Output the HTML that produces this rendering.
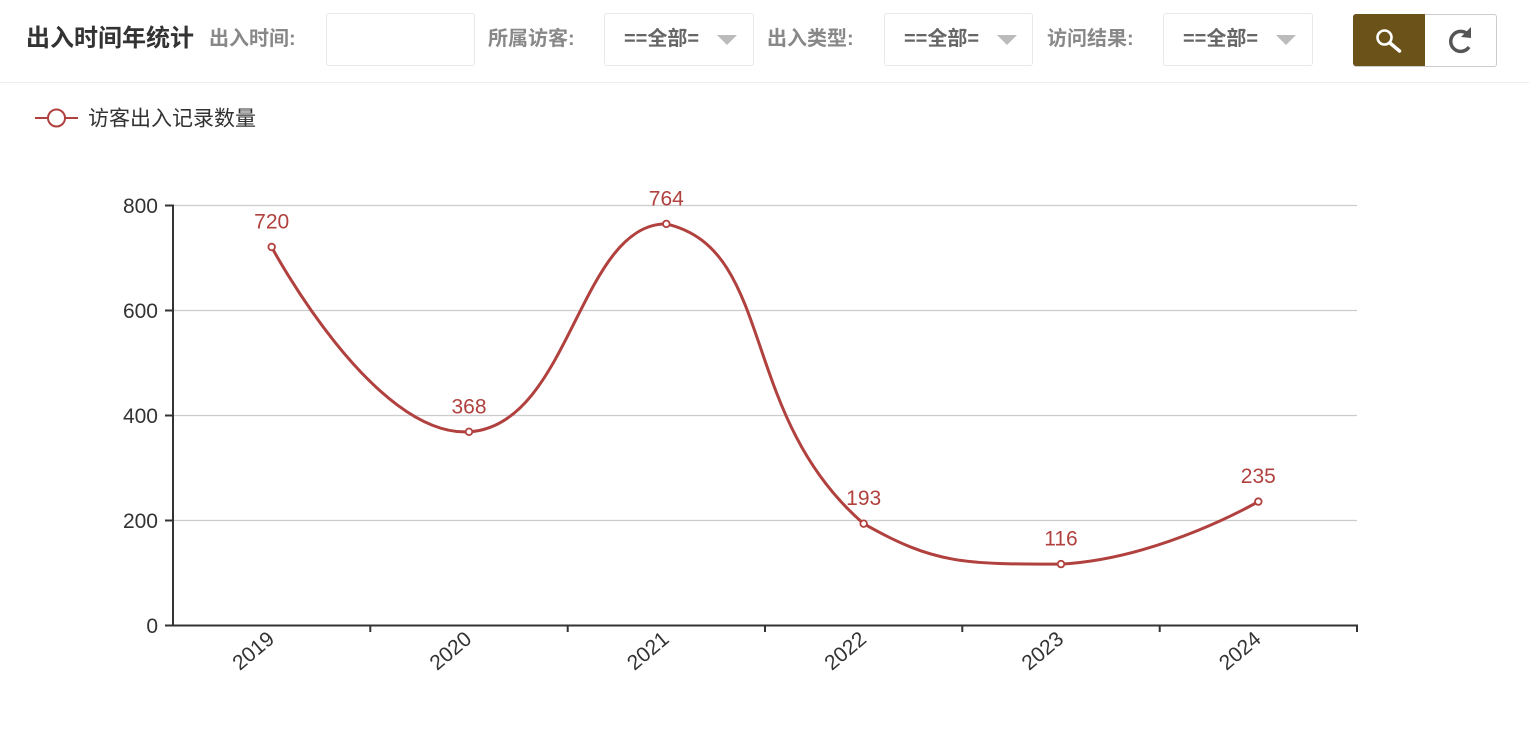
<!DOCTYPE html>
<html>
<head>
<meta charset="utf-8">
<style>
html,body{margin:0;padding:0;background:#fff;}
body{width:1529px;height:745px;position:relative;overflow:hidden;font-family:"Liberation Sans","Noto Sans CJK SC",sans-serif;}
.abs{position:absolute;white-space:nowrap;}
.title{left:26px;top:24px;font-size:24px;line-height:30px;font-weight:bold;color:#333;}
.lbl{top:26px;font-size:20px;line-height:26px;font-weight:bold;color:#888;}
.box{top:13px;height:51px;border:1px solid #e8e8e8;border-radius:3px;background:#fff;}
.sel{font-size:20px;font-weight:bold;color:#666;line-height:51px;}
.sel span{position:absolute;left:19px;top:0;}
.tri{position:absolute;top:21px;width:0;height:0;border-left:10px solid transparent;border-right:10px solid transparent;border-top:10px solid #bbb;}
.hr{left:0;top:82px;width:1529px;height:1px;background:#ececec;}
</style>
</head>
<body>
<div class="abs title">出入时间年统计</div>
<div class="abs lbl" style="left:209px;">出入时间:</div>
<div class="abs box" style="left:326px;width:147px;"></div>
<div class="abs lbl" style="left:488px;">所属访客:</div>
<div class="abs box sel" style="left:604px;width:148px;"><span>==全部=</span><div class="tri" style="left:112px;"></div></div>
<div class="abs lbl" style="left:767px;">出入类型:</div>
<div class="abs box sel" style="left:884px;width:147px;"><span>==全部=</span><div class="tri" style="left:112px;"></div></div>
<div class="abs lbl" style="left:1047px;">访问结果:</div>
<div class="abs box sel" style="left:1163px;width:148px;"><span>==全部=</span><div class="tri" style="left:112px;"></div></div>
<div class="abs" style="left:1353px;top:14px;width:142px;height:51px;border:1px solid #ccc;border-radius:3px;background:#fff;"></div>
<div class="abs" style="left:1353px;top:14px;width:72px;height:52px;background:#6b5219;border-radius:3px 0 0 3px;"></div>
<svg class="abs" style="left:0;top:0;" width="1529" height="745" viewBox="0 0 1529 745">
  <!-- search icon -->
  <circle cx="1384.5" cy="37.5" r="7" fill="none" stroke="#fff" stroke-width="2.6"/>
  <line x1="1390" y1="43" x2="1399.5" y2="51" stroke="#fff" stroke-width="3.5" stroke-linecap="round"/>
  <!-- refresh icon -->
  <path d="M1467.5,34 A10,10 0 1 0 1469,47" fill="none" stroke="#555" stroke-width="3.5"/>
  <polygon points="1471,27 1471,38 1461,37" fill="#555"/>
  <!-- legend -->
  <line x1="35" y1="118" x2="78" y2="118" stroke="#b0413e" stroke-width="2"/>
  <circle cx="56.5" cy="118" r="8.5" fill="#fff" stroke="#b0413e" stroke-width="2"/>
  <text x="88" y="125.5" font-size="21" fill="#333" font-family="Liberation Sans, Noto Sans CJK SC, sans-serif">访客出入记录数量</text>
  <!-- grid -->
  <g stroke="#ccc" stroke-width="1.3">
    <line x1="173" y1="205.5" x2="1357" y2="205.5"/>
    <line x1="173" y1="310.5" x2="1357" y2="310.5"/>
    <line x1="173" y1="415.5" x2="1357" y2="415.5"/>
    <line x1="173" y1="520.5" x2="1357" y2="520.5"/>
  </g>
  <!-- axes -->
  <g stroke="#333" stroke-width="2">
    <line x1="173" y1="204.5" x2="173" y2="626"/>
    <line x1="165" y1="205.5" x2="173" y2="205.5"/>
    <line x1="165" y1="310.5" x2="173" y2="310.5"/>
    <line x1="165" y1="415.5" x2="173" y2="415.5"/>
    <line x1="165" y1="520.5" x2="173" y2="520.5"/>
    <line x1="165" y1="625.5" x2="173" y2="625.5"/>
    <line x1="172" y1="625.5" x2="1358" y2="625.5"/>
    <line x1="370.3" y1="625.5" x2="370.3" y2="632"/>
    <line x1="567.7" y1="625.5" x2="567.7" y2="632"/>
    <line x1="765" y1="625.5" x2="765" y2="632"/>
    <line x1="962.3" y1="625.5" x2="962.3" y2="632"/>
    <line x1="1159.7" y1="625.5" x2="1159.7" y2="632"/>
    <line x1="1357" y1="625.5" x2="1357" y2="632"/>
  </g>
  <g font-size="21" fill="#333" font-family="Liberation Sans, sans-serif" text-anchor="end">
    <text x="158" y="213">800</text>
    <text x="158" y="318">600</text>
    <text x="158" y="423">400</text>
    <text x="158" y="528">200</text>
    <text x="158" y="633">0</text>
  </g>
  <g font-size="21" fill="#333" font-family="Liberation Sans, sans-serif" text-anchor="end">
    <text x="270.5" y="635" dy="8" transform="rotate(-40 270.5 635)">2019</text>
    <text x="467.8" y="635" dy="8" transform="rotate(-40 467.8 635)">2020</text>
    <text x="665.2" y="635" dy="8" transform="rotate(-40 665.2 635)">2021</text>
    <text x="862.5" y="635" dy="8" transform="rotate(-40 862.5 635)">2022</text>
    <text x="1059.8" y="635" dy="8" transform="rotate(-40 1059.8 635)">2023</text>
    <text x="1257.2" y="635" dy="8" transform="rotate(-40 1257.2 635)">2024</text>
  </g>
  <!-- series -->
  <path d="M271.67,247 C271.67,247 373.21,437.41 469,431.8 C570.55,425.86 578.71,223.9 666.33,223.9 C776.05,249.45 737.28,414.75 863.67,523.7 C934.61,564.1 963.67,564.1 1061,564.1 C1161.01,558.5 1258.33,501.6 1258.33,501.6" fill="none" stroke="#b0413e" stroke-width="3" stroke-linejoin="round"/>
  <g fill="#fff" stroke="#b0413e" stroke-width="1.8">
    <circle cx="271.67" cy="247" r="3.3"/>
    <circle cx="469" cy="431.8" r="3.3"/>
    <circle cx="666.33" cy="223.9" r="3.3"/>
    <circle cx="863.67" cy="523.7" r="3.3"/>
    <circle cx="1061" cy="564.1" r="3.3"/>
    <circle cx="1258.33" cy="501.6" r="3.3"/>
  </g>
  <g font-size="21" fill="#b0413e" font-family="Liberation Sans, sans-serif" text-anchor="middle">
    <text x="271.67" y="228.5">720</text>
    <text x="469" y="413.3">368</text>
    <text x="666.33" y="205.4">764</text>
    <text x="863.67" y="505.2">193</text>
    <text x="1061" y="545.6">116</text>
    <text x="1258.33" y="483.1">235</text>
  </g>
</svg>
<div class="abs hr"></div>
</body>
</html>
